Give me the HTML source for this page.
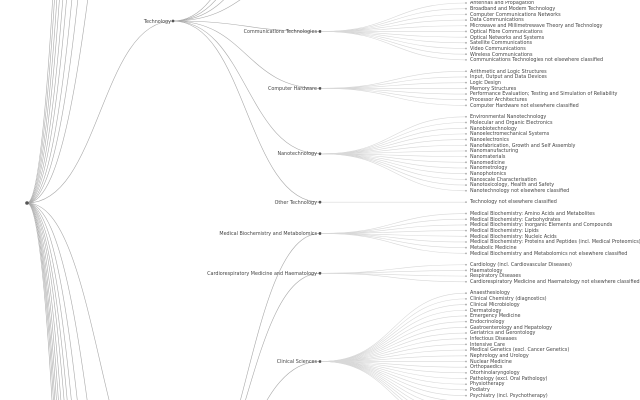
<!DOCTYPE html>
<html><head><meta charset="utf-8">
<style>
html,body{margin:0;padding:0;background:#fff;width:640px;height:400px;overflow:hidden}
#wrap{position:relative;width:640px;height:400px;overflow:hidden}
svg{position:absolute;left:0;top:0}
.col{position:absolute;left:470px;top:1.4px;height:398px;overflow:hidden;font-family:"DejaVu Sans","Liberation Sans",sans-serif;font-size:4.85px;color:#444;white-space:nowrap}
.col div{height:5.69px;line-height:5.69px}
.lbl{position:absolute;font-family:"DejaVu Sans","Liberation Sans",sans-serif;font-size:4.85px;color:#444;white-space:nowrap;text-align:right;line-height:6px}
</style></head><body><div id="wrap">
<svg id="s" width="640" height="400"></svg>
<div class="col">
<div>Antennas and Propagation</div><div>Broadband and Modem Technology</div><div>Computer Communications Networks</div><div>Data Communications</div><div>Microwave and Millimetrewave Theory and Technology</div><div>Optical Fibre Communications</div><div>Optical Networks and Systems</div><div>Satellite Communications</div><div>Video Communications</div><div>Wireless Communications</div><div>Communications Technologies not elsewhere classified</div><div></div>
<div>Arithmetic and Logic Structures</div><div>Input, Output and Data Devices</div><div>Logic Design</div><div>Memory Structures</div><div>Performance Evaluation; Testing and Simulation of Reliability</div><div>Processor Architectures</div><div>Computer Hardware not elsewhere classified</div><div></div>
<div>Environmental Nanotechnology</div><div>Molecular and Organic Electronics</div><div>Nanobiotechnology</div><div>Nanoelectromechanical Systems</div><div>Nanoelectronics</div><div>Nanofabrication, Growth and Self Assembly</div><div>Nanomanufacturing</div><div>Nanomaterials</div><div>Nanomedicine</div><div>Nanometrology</div><div>Nanophotonics</div><div>Nanoscale Characterisation</div><div>Nanotoxicology, Health and Safety</div><div>Nanotechnology not elsewhere classified</div><div></div>
<div>Technology not elsewhere classified</div><div></div>
<div>Medical Biochemistry: Amino Acids and Metabolites</div><div>Medical Biochemistry: Carbohydrates</div><div>Medical Biochemistry: Inorganic Elements and Compounds</div><div>Medical Biochemistry: Lipids</div><div>Medical Biochemistry: Nucleic Acids</div><div>Medical Biochemistry: Proteins and Peptides (incl. Medical Proteomics)</div><div>Metabolic Medicine</div><div>Medical Biochemistry and Metabolomics not elsewhere classified</div><div></div>
<div>Cardiology (incl. Cardiovascular Diseases)</div><div>Haematology</div><div>Respiratory Diseases</div><div>Cardiorespiratory Medicine and Haematology not elsewhere classified</div><div></div>
<div>Anaesthesiology</div><div>Clinical Chemistry (diagnostics)</div><div>Clinical Microbiology</div><div>Dermatology</div><div>Emergency Medicine</div><div>Endocrinology</div><div>Gastroenterology and Hepatology</div><div>Geriatrics and Gerontology</div><div>Infectious Diseases</div><div>Intensive Care</div><div>Medical Genetics (excl. Cancer Genetics)</div><div>Nephrology and Urology</div><div>Nuclear Medicine</div><div>Orthopaedics</div><div>Otorhinolaryngology</div><div>Pathology (excl. Oral Pathology)</div><div>Physiotherapy</div><div>Podiatry</div><div>Psychiatry (incl. Psychotherapy)</div><div>Radiology and Organ Imaging</div>
</div>
<div class="lbl" style="right:469px;top:18.5px">Technology</div>
<div class="lbl" style="right:323px;top:28.7px">Communications Technologies</div>
<div class="lbl" style="right:323px;top:85.7px">Computer Hardware</div>
<div class="lbl" style="right:323px;top:151.2px">Nanotechnology</div>
<div class="lbl" style="right:323px;top:200.2px">Other Technology</div>
<div class="lbl" style="right:323px;top:231.2px">Medical Biochemistry and Metabolomics</div>
<div class="lbl" style="right:323px;top:271.2px">Cardiorespiratory Medicine and Haematology</div>
<div class="lbl" style="right:323px;top:359.2px">Clinical Sciences</div>
</div>
<script>
var s=document.getElementById('s'),out='';
function link(x0,y0,x1,y1,c,w){var m=(x0+x1)/2;out+='<path d="M'+x0+','+y0+'C'+m+','+y0+' '+m+','+y1+' '+x1+','+y1+'" fill="none" stroke="'+c+'" stroke-width="'+w+'"/>';}
function dot(x,y,r,c){out+='<circle cx="'+x+'" cy="'+y+'" r="'+r+'" fill="'+c+'"/>';}
var sp=5.69,y0=3;function Y(i){return y0+i*sp;}
var groups=[[0,10],[12,18],[20,33],[35,35],[37,44],[46,49],[51,75]];
var pys=[];
groups.forEach(function(g){var py=(Y(g[0])+Y(g[1]))/2;pys.push(py);for(var i=g[0];i<=g[1];i++){link(322,py,466,Y(i),'#d8d8d8',0.6);}});
for(var i=-12;i<0;i++){link(322,-40,466,Y(i),'#d8d8d8',0.6);}
[-170,-120,-75,-30].forEach(function(t){link(173,21,320,t,'#aaa',0.6);});
[pys[0],pys[1],pys[2],pys[3]].forEach(function(p){link(173,21,320,p,'#aaa',0.6);});
var med=520;
[pys[4],pys[5],pys[6],600,680].forEach(function(p){link(173,med,320,p,'#aaa',0.6);});
[-400,-700,-1000,-1400,-1800,-2300,-2800,-3400,-4000].forEach(function(t){link(27,203,173,t,'#aaa',0.6);});
link(27,203,173,21,'#aaa',0.6);
[med,800,1100,1400,1700,2000,2400,2800,3200,3600,4000,4500].forEach(function(t){link(27,203,173,t,'#aaa',0.6);});
for(var i=-12;i<=75;i++){if(i>=0){var ok=groups.some(function(g){return i>=g[0]&&i<=g[1];});if(!ok)continue;}dot(466,Y(i),0.9,'#aaa');}
pys.forEach(function(p){dot(320,p,1.4,'#555');});
dot(173,21,1.4,'#555');dot(27,203,1.8,'#555');
s.innerHTML=out;
</script>
</body></html>
